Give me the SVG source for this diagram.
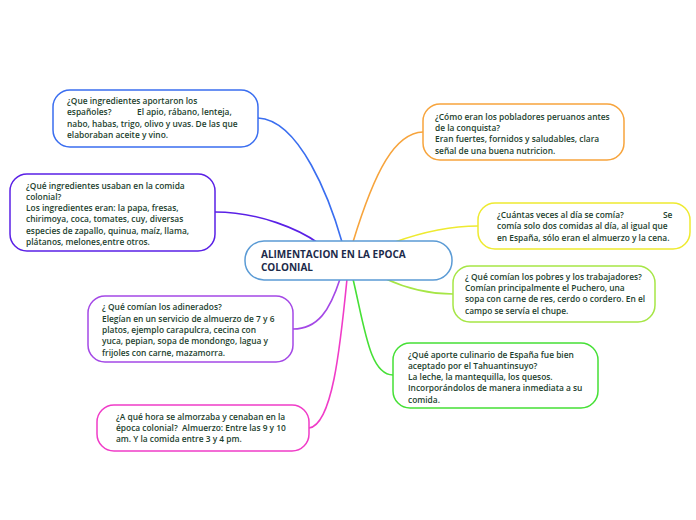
<svg xmlns="http://www.w3.org/2000/svg" width="696" height="520" viewBox="0 0 696 520">
<style>
.box{fill:#fff;stroke-width:1.5}
.t{font-family:"Open Sans","Noto Sans","DejaVu Sans",sans-serif;font-size:8.4px;font-weight:600;fill:#1d3f2e}
.ct{font-family:"Open Sans","Noto Sans","DejaVu Sans",sans-serif;font-size:10px;font-weight:700;fill:#1c2a4a}
.c{fill:none;stroke-width:1.6}
</style>
<rect width="696" height="520" fill="#fff"/>
<g id="connectors">
<path class="c" stroke="#3a6ef0" d="M258,118 C300,120 330,200 342,242"/>
<path class="c" stroke="#5a20e6" d="M215,212 C260,212 300,230 318,243"/>
<path class="c" stroke="#a448e6" d="M340,279 C330,310 318,329 293,329"/>
<path class="c" stroke="#f03cc8" d="M347,279 C340,350 332,425 309,428"/>
<path class="c" stroke="#f7a43c" d="M353,242 C375,170 395,133 423,132"/>
<path class="c" stroke="#eeea30" d="M395,242 C420,233 450,226 478,226"/>
<path class="c" stroke="#a6e646" d="M386,279 C410,290 430,294 453,294"/>
<path class="c" stroke="#46e036" d="M353,279 C365,330 370,375 393,375"/>
</g>
<g id="center">
<rect class="box" x="245" y="241" width="207" height="39" rx="19" stroke="#5b9bd5"/>
<text class="ct" x="261" y="257.5">ALIMENTACION EN LA EPOCA</text>
<text class="ct" x="261" y="270.5">COLONIAL</text>
</g>
<g id="n1">
<rect class="box" x="53" y="90" width="205" height="57" rx="17" stroke="#3a6ef0"/>
<text class="t" x="67" y="104">¿Que ingredientes aportaron los</text>
<text class="t" y="115.3"><tspan x="67">españoles?</tspan><tspan x="137">El apio, rábano, lenteja,</tspan></text>
<text class="t" x="67" y="126.6">nabo, habas,  trigo, olivo y uvas.  De las que</text>
<text class="t" x="67" y="137.9">elaboraban  aceite y vino.</text>
</g>
<g id="n2">
<rect class="box" x="10" y="174" width="205" height="77" rx="17" stroke="#5a20e6"/>
<text class="t" x="26" y="188.5">¿Qué ingredientes usaban en la comida</text>
<text class="t" x="26" y="199.8">colonial?</text>
<text class="t" x="26" y="211.1">Los ingredientes eran:  la papa, fresas,</text>
<text class="t" x="26" y="222.4">chirimoya, coca, tomates, cuy, diversas</text>
<text class="t" x="26" y="233.7">especies de zapallo, quinua, maíz, llama,</text>
<text class="t" x="26" y="245">plátanos, melones,entre otros.</text>
</g>
<g id="n3">
<rect class="box" x="88" y="296" width="205" height="66" rx="17" stroke="#a448e6"/>
<text class="t" x="102" y="310.3">¿ Qué comían los adinerados?</text>
<text class="t" x="102" y="321.6">Elegían en un servicio de almuerzo de 7 y 6</text>
<text class="t" x="102" y="332.9">platos, ejemplo carapulcra, cecina con</text>
<text class="t" x="102" y="344.2">yuca, pepian, sopa de mondongo, lagua y</text>
<text class="t" x="102" y="355.5">frijoles con carne, mazamorra.</text>
</g>
<g id="n4">
<rect class="box" x="97" y="405" width="212" height="46" rx="17" stroke="#f03cc8"/>
<text class="t" x="116" y="419.7">¿A qué hora se almorzaba y cenaban en la</text>
<text class="t" x="116" y="431" xml:space="preserve">época colonial?  Almuerzo: Entre las 9 y 10</text>
<text class="t" x="116" y="442.3">am. Y la comida entre 3 y 4 pm.</text>
</g>
<g id="n5">
<rect class="box" x="423" y="104" width="201" height="56" rx="17" stroke="#f7a43c"/>
<text class="t" x="435" y="119.7">¿Cómo eran los pobladores peruanos antes</text>
<text class="t" x="435" y="131">de la conquista?</text>
<text class="t" x="435" y="142.3">Eran fuertes, fornidos y saludables, clara</text>
<text class="t" x="435" y="153.6">señal de una buena nutricion.</text>
</g>
<g id="n6">
<rect class="box" x="478" y="203" width="212" height="46" rx="17" stroke="#eeea30"/>
<text class="t" y="218"><tspan x="497">¿Cuántas veces al día se comía?</tspan><tspan x="663">Se</tspan></text>
<text class="t" x="497" y="229.3">comía solo dos comidas  al día, al igual que</text>
<text class="t" x="497" y="240.6">en España, sólo eran el almuerzo y la cena.</text>
</g>
<g id="n7">
<rect class="box" x="453" y="266" width="202" height="56" rx="17" stroke="#a6e646"/>
<text class="t" x="465" y="279.7">¿ Qué comían los pobres y los trabajadores?</text>
<text class="t" x="465" y="291">Comían principalmente el Puchero, una</text>
<text class="t" x="465" y="302.3">sopa con carne de res, cerdo o cordero.  En el</text>
<text class="t" x="465" y="313.6">campo se servía el chupe.</text>
</g>
<g id="n8">
<rect class="box" x="393" y="343" width="205" height="65" rx="17" stroke="#46e036"/>
<text class="t" x="408" y="357.5">¿Qué aporte culinario de España fue bien</text>
<text class="t" x="408" y="368.8">aceptado por el Tahuantinsuyo?</text>
<text class="t" x="408" y="380.1">La leche, la mantequilla, los quesos.</text>
<text class="t" x="408" y="391.4">Incorporándolos de manera inmediata a su</text>
<text class="t" x="408" y="402.7">comida.</text>
</g>
</svg>
